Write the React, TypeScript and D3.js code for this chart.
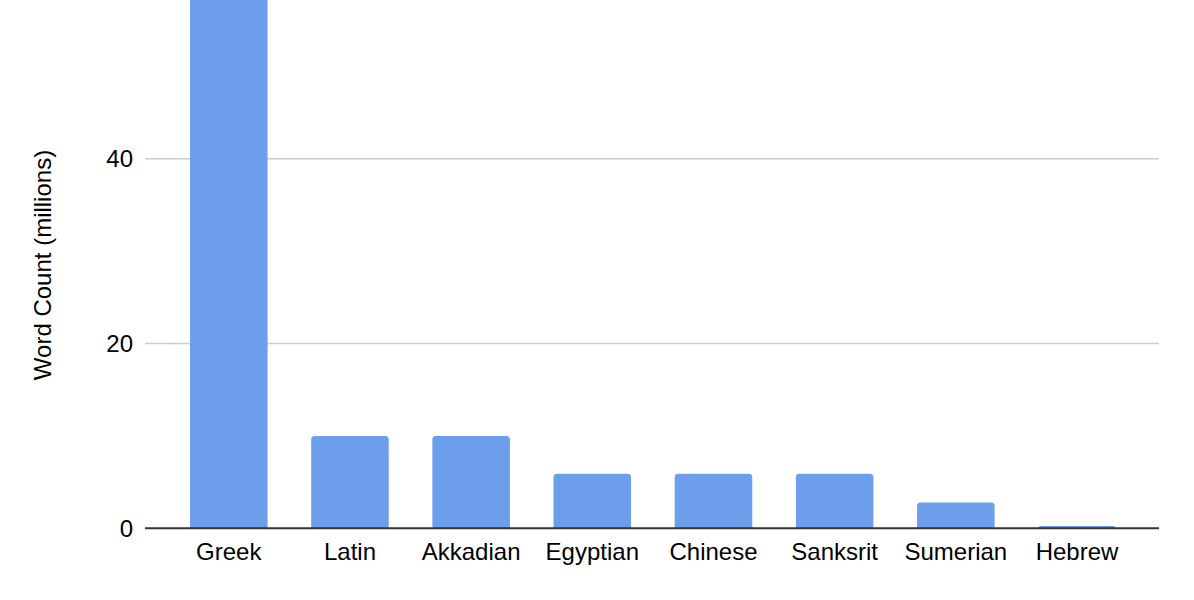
import React from "react";
import * as d3 from "d3";

const languages = ["Greek", "Latin", "Akkadian", "Egyptian", "Chinese", "Sanksrit", "Sumerian", "Hebrew"];
const wordCounts = [60, 10, 10, 5.9, 5.9, 5.9, 2.8, 0.25];
const yTicks = [0, 20, 40];
const yLabel = "Word Count (millions)";

const W = 1194;
const H = 600;
const FONT = "'Liberation Sans', Arial, sans-serif";

function topRoundedBar(x: number, y: number, w: number, h: number, r: number) {
  const rr = Math.min(r, h, w / 2);
  const p = d3.path();
  p.moveTo(x, y + h);
  p.lineTo(x, y + rr);
  p.arcTo(x, y, x + rr, y, rr);
  p.lineTo(x + w - rr, y);
  p.arcTo(x + w, y, x + w, y + rr, rr);
  p.lineTo(x + w, y + h);
  p.closePath();
  return p.toString();
}

export default function App() {
  const x = d3.scaleBand<string>().domain(languages).range([168.2, 1137.6]).paddingInner(0.36).paddingOuter(0.18);
  const y = d3.scaleLinear().domain([0, 40]).range([528.3, 158.7]);
  const bw = x.bandwidth();

  return (
    <svg
      width={W}
      height={H}
      style={{ position: "absolute", left: 0, top: 0, background: "#fff" }}
      fontFamily={FONT}
    >
      <defs>
        <clipPath id="plot">
          <rect x={0} y={0} width={W} height={H} />
        </clipPath>
      </defs>
      {yTicks.filter((t) => t !== 0).map((t) => (
        <line key={"g" + t} x1={145} x2={1159} y1={y(t)} y2={y(t)} stroke="#cccccc" strokeWidth={1.5} />
      ))}
      <g clipPath="url(#plot)">
        {languages.map((lang, i) => {
          const x0 = x(lang) as number;
          const y0 = y(wordCounts[i]);
          const h = y(0) - y0;
          return <path key={lang} d={topRoundedBar(x0, y0, bw, h, 3.5)} fill="#6d9eeb" />;
        })}
      </g>
      <line x1={145} x2={1159} y1={y(0)} y2={y(0)} stroke="#333333" strokeWidth={2} />
      {yTicks.map((t) => (
        <text key={"t" + t} x={133} y={y(t)} dy="0.35em" textAnchor="end" fontSize={24} fill="#000">
          {t}
        </text>
      ))}
      {languages.map((lang) => (
        <text
          key={"l" + lang}
          x={(x(lang) as number) + bw / 2}
          y={560}
          textAnchor="middle"
          fontSize={24}
          fill="#000"
        >
          {lang}
        </text>
      ))}
      <text
        transform={`translate(51, 265) rotate(-90)`}
        textAnchor="middle"
        fontSize={24}
        fill="#000"
      >
        {yLabel}
      </text>
    </svg>
  );
}
